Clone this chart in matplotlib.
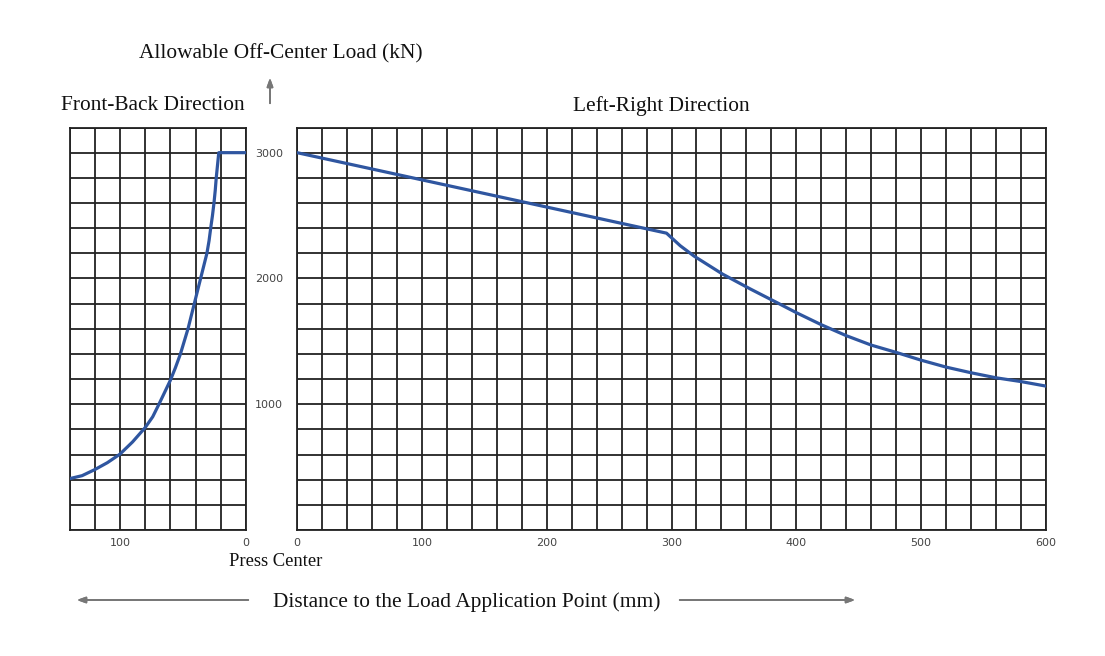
import numpy as np
import matplotlib.pyplot as plt

# front-back direction (distance mm, load kN)
fb_dist = [140, 130, 120, 110, 100, 90, 80, 74, 69.3, 65, 60, 56, 52, 49, 46, 43.5,
           41, 38.5, 36, 33.5, 31, 29.3, 28, 26.6, 25.4, 24.4, 23.6, 22.6, 21.6, 0]
fb_load = [408, 432, 480, 535, 603, 700, 814, 900, 995, 1085, 1190, 1290, 1400, 1500, 1600, 1700,
           1800, 1900, 2000, 2100, 2200, 2300, 2400, 2500, 2600, 2700, 2800, 2900, 3000, 3000]

# left-right direction
lr_dist = [0, 296, 307, 318, 341, 363, 386, 400, 420, 440, 460, 480, 500, 520, 540, 560, 580, 600]
lr_load = [3000, 2360, 2260, 2178, 2034, 1917, 1800, 1728, 1632, 1545, 1470, 1412, 1350, 1295, 1250, 1210, 1180, 1144]

y_ticks = [1000, 2000, 3000]
fb_ticks = [100, 0]
lr_ticks = [0, 100, 200, 300, 400, 500, 600]

W, H = 1105, 656
line_color = '#2f56a0'
grid_color = '#222222'
serif = 'Liberation Serif'


def px(x0, y0, x1, y1):
    # pixel box -> figure fraction rect
    return [x0 / W, 1 - y1 / H, (x1 - x0) / W, (y1 - y0) / H]


def grid_panel(ax, xmin, xmax):
    ax.set_ylim(0, 3200)
    for v in np.arange(0, 3201, 200):
        ax.axhline(v, color=grid_color, lw=1.3, zorder=1)
    for v in np.arange(min(xmin, xmax), max(xmin, xmax) + 1, 20):
        ax.axvline(v, color=grid_color, lw=1.3, zorder=1)
    for s in ax.spines.values():
        s.set_color(grid_color)
        s.set_linewidth(1.3)
    ax.tick_params(length=0, labelsize=8, labelcolor='#444444')


fig = plt.figure(figsize=(W / 100, H / 100), dpi=100)

ax1 = fig.add_axes(px(69.5, 127.5, 246, 530))
ax1.set_xlim(140, 0)
grid_panel(ax1, 140, 0)
ax1.plot(fb_dist, fb_load, color=line_color, lw=2.3, zorder=3, solid_joinstyle='round')
ax1.set_xticks(fb_ticks)
ax1.set_xticklabels([str(t) for t in fb_ticks])
ax1.set_yticks([])
ax1.tick_params(axis='x', pad=6)

ax2 = fig.add_axes(px(297, 127.5, 1046, 530))
ax2.set_xlim(0, 600)
grid_panel(ax2, 0, 600)
ax2.plot(lr_dist, lr_load, color=line_color, lw=2.3, zorder=3, solid_joinstyle='round')
ax2.set_xticks(lr_ticks)
ax2.set_xticklabels([str(t) for t in lr_ticks])
ax2.set_yticks(y_ticks)
ax2.set_yticklabels([str(t) for t in y_ticks])
ax2.tick_params(axis='y', pad=10)
ax2.tick_params(axis='x', pad=6)

# titles and annotations
fig.text(281 / W, 1 - 54 / H, 'Allowable Off-Center Load (kN)', family=serif,
         fontsize=15.4, ha='center', va='center', color='#111111')
fig.text(153 / W, 1 - 106 / H, 'Front-Back Direction', family=serif,
         fontsize=15.4, ha='center', va='center', color='#111111')
fig.text(661 / W, 1 - 106 / H, 'Left-Right Direction', family=serif,
         fontsize=15.4, ha='center', va='center', color='#111111')
fig.text(276 / W, 1 - 561 / H, 'Press Center', family=serif,
         fontsize=13.4, ha='center', va='center', color='#111111')
fig.text(467 / W, 1 - 602 / H, 'Distance to the Load Application Point (mm)', family=serif,
         fontsize=15.4, ha='center', va='center', color='#111111')

arrow = dict(arrowstyle='-|>,head_length=0.5,head_width=0.18', color='#777777', lw=1.3)
fig.add_artist(plt.annotate('', xy=(270 / W, 1 - 75 / H), xytext=(270 / W, 1 - 106 / H),
                            xycoords='figure fraction', arrowprops=arrow))
fig.add_artist(plt.annotate('', xy=(74 / W, 1 - 600 / H), xytext=(251 / W, 1 - 600 / H),
                            xycoords='figure fraction', arrowprops=arrow))
fig.add_artist(plt.annotate('', xy=(858 / W, 1 - 600 / H), xytext=(677 / W, 1 - 600 / H),
                            xycoords='figure fraction', arrowprops=arrow))

fig.savefig('out.png', dpi=100)
